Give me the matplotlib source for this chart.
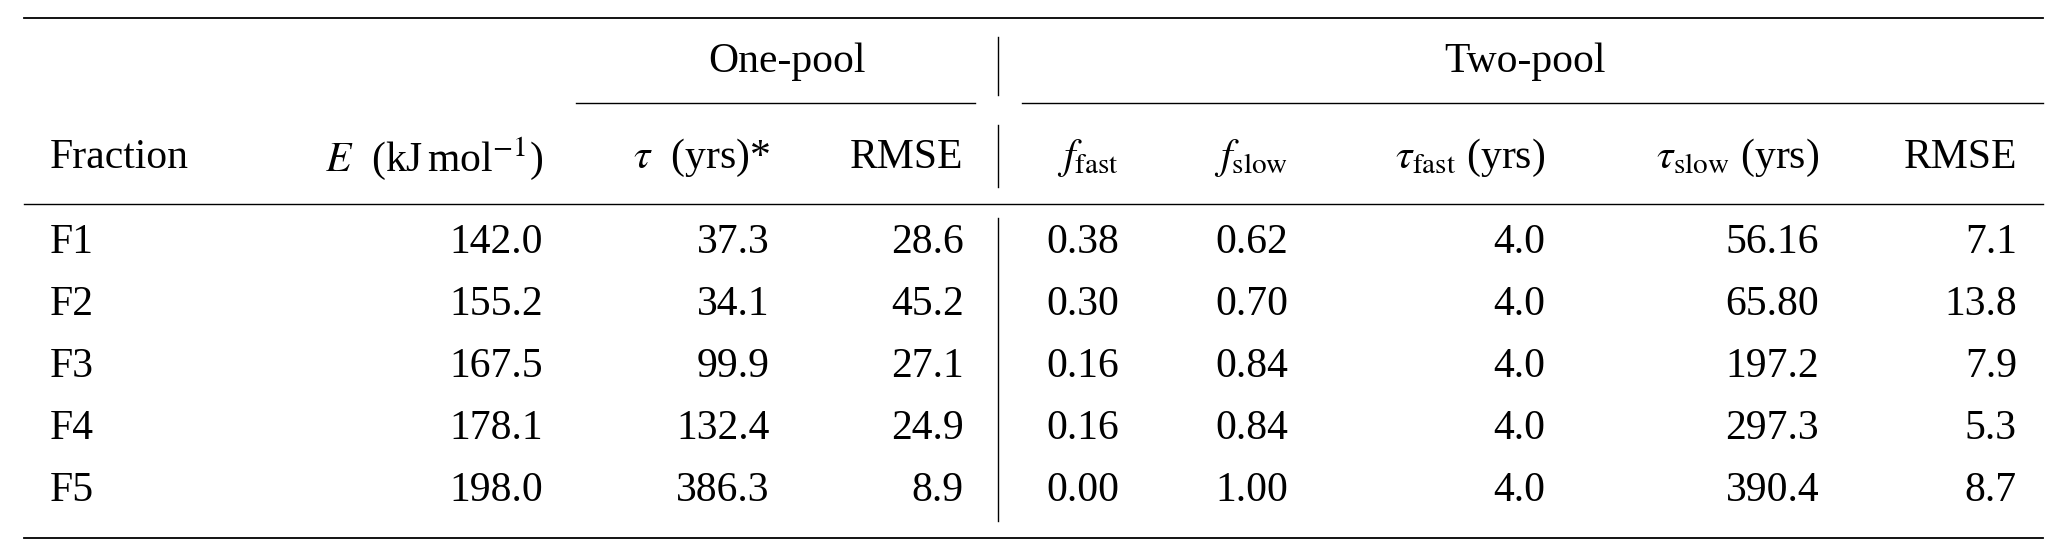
import matplotlib
matplotlib.use("Agg")
import matplotlib.pyplot as plt
from matplotlib.lines import Line2D

plt.rcParams['font.family'] = ['Liberation Serif', 'DejaVu Serif']
plt.rcParams['mathtext.fontset'] = 'stix'

fractions = ['F1', 'F2', 'F3', 'F4', 'F5']
energy = ['142.0', '155.2', '167.5', '178.1', '198.0']
tau_one = ['37.3', '34.1', '99.9', '132.4', '386.3']
rmse_one = ['28.6', '45.2', '27.1', '24.9', '8.9']
f_fast = ['0.38', '0.30', '0.16', '0.16', '0.00']
f_slow = ['0.62', '0.70', '0.84', '0.84', '1.00']
tau_fast = ['4.0', '4.0', '4.0', '4.0', '4.0']
tau_slow = ['56.16', '65.80', '197.2', '297.3', '390.4']
rmse_two = ['7.1', '13.8', '7.9', '5.3', '8.7']

headers = ['Fraction', r'$E$  (kJ$\,$mol$^{-1}$)', r'$\tau$  (yrs)*', 'RMSE',
           r'$f_{\rm fast}$', r'$f_{\rm slow}$', r'$\tau_{\rm fast}$ (yrs)',
           r'$\tau_{\rm slow}$ (yrs)', 'RMSE']
columns = [fractions, energy, tau_one, rmse_one, f_fast, f_slow, tau_fast, tau_slow, rmse_two]
col_x = [38, 412, 584, 731, 849, 977, 1172, 1380, 1530]
col_ha = ['left'] + ['right'] * 8

W, H = 1568, 424
fig = plt.figure(figsize=(20.67, 5.59), dpi=100)

def fx(x):
    return x / W

def fy(y):
    return 1 - y / H

def hline(x0, x1, y, lw=1.3):
    fig.add_artist(Line2D([fx(x0), fx(x1)], [fy(y), fy(y)], color='black', lw=lw))

def vline(x, y0, y1):
    fig.add_artist(Line2D([fx(x), fx(x)], [fy(y0), fy(y1)], color='black', lw=1.0))

fs = 30
hline(18, 1550, 14)
hline(437, 740, 78, 1.0)
hline(775, 1550, 78, 1.0)
hline(18, 1550, 155, 1.0)
hline(18, 1550, 408)
vline(757, 28, 72)
vline(757, 95, 142)
vline(757, 165, 395)

fig.text(fx(597), fy(47), 'One-pool', ha='center', va='center', fontsize=fs)
fig.text(fx(1157), fy(47), 'Two-pool', ha='center', va='center', fontsize=fs)

for h, x, ha in zip(headers, col_x, col_ha):
    fig.text(fx(x), fy(120), h, ha=ha, va='center', fontsize=fs)

row_y = [184, 231, 278, 325, 372]
for col, x, ha in zip(columns, col_x, col_ha):
    for v, y in zip(col, row_y):
        fig.text(fx(x), fy(y), v, ha=ha, va='center', fontsize=fs)

fig.savefig('out.png', dpi=100)
